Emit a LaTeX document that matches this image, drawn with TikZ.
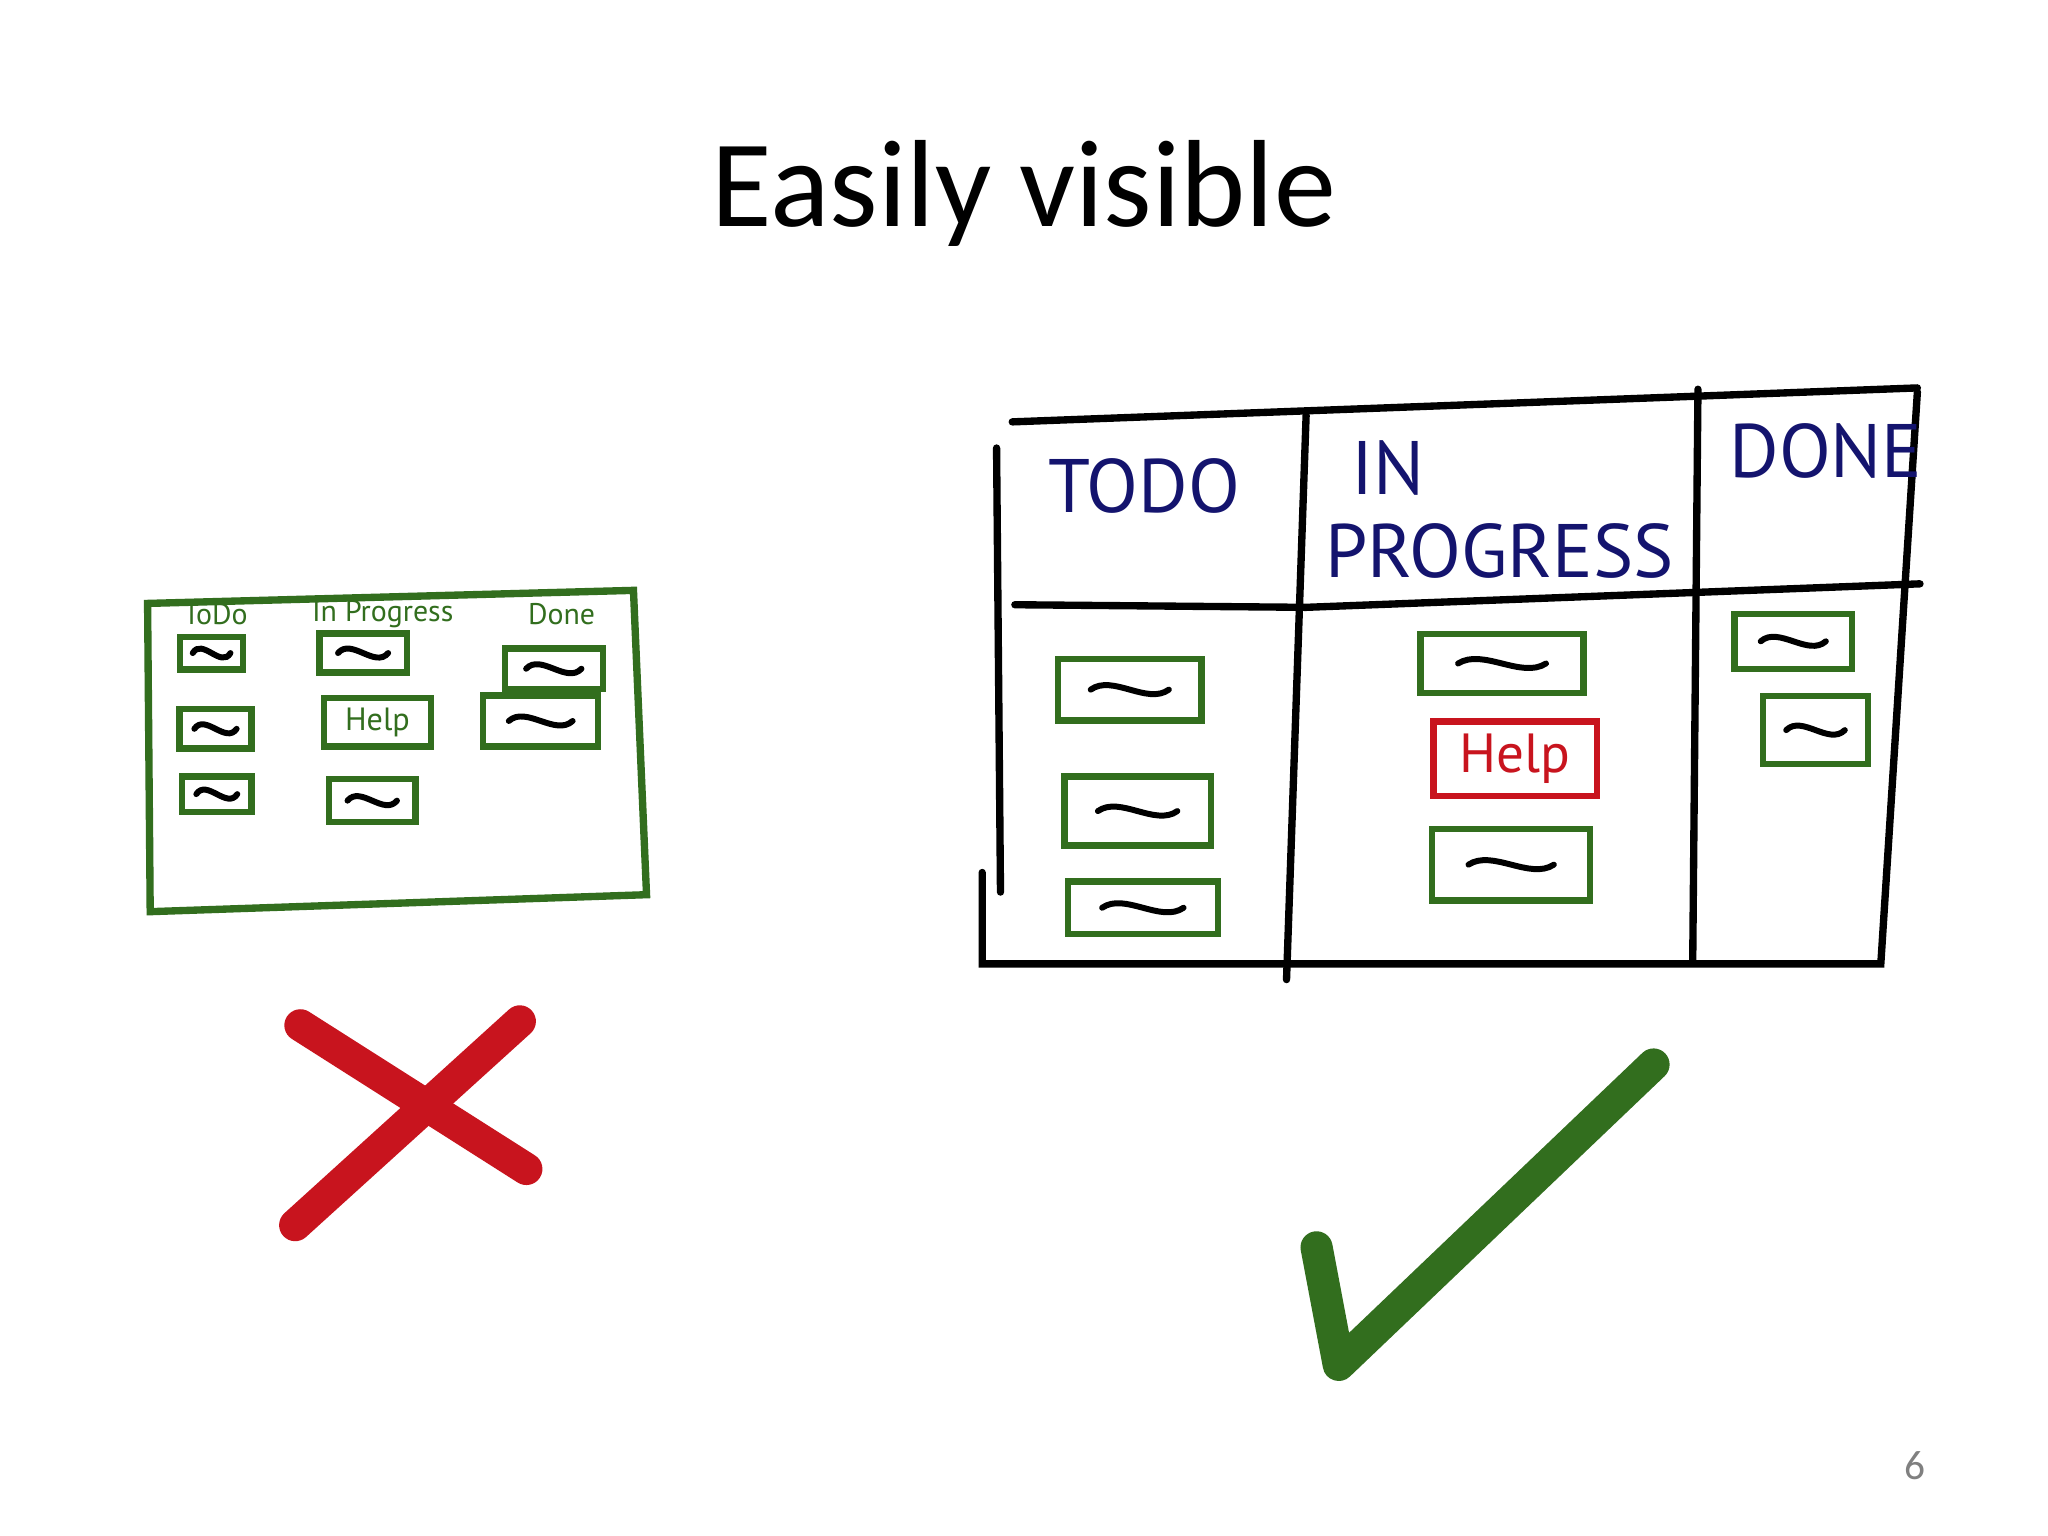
\documentclass[tikz,border=0pt]{standalone}
\usepackage{fontspec}
\setmainfont{Carlito}
\newfontfamily\hand{PT Sans}
\definecolor{bgreen}{RGB}{50,110,30}
\definecolor{bred}{RGB}{200,20,30}
\definecolor{navy}{RGB}{20,20,110}
\newcommand{\mycard}[5][bgreen]{%
  \node[card,draw=#1,minimum width=#4*0.01cm,minimum height=#5*0.01cm] (#2) at (#3) {};
  \draw[squig] ([xshift=#4*0.0025cm]#2.west) .. controls ([xshift=#4*0.004cm,yshift=0.12cm]#2.west) and ([xshift=-#4*0.004cm,yshift=-0.12cm]#2.east) .. ([xshift=-#4*0.0025cm]#2.east);}
\begin{document}
\begin{tikzpicture}[x=0.01cm,y=-0.01cm,
  card/.style={line width=1.4pt,inner sep=0pt},
  squig/.style={line width=1.3pt,black,line cap=round},
  board/.style={line width=1.6pt,black,line cap=round},
  hd/.style={navy,font=\hand\fontsize{16.5}{18}\selectfont,inner sep=0pt},
  sm/.style={bgreen,font=\hand\fontsize{6.5}{7}\selectfont,inner sep=0pt}]
\useasboundingbox[fill=white] (0,0) rectangle (1568,1176);
\node[font=\fontsize{27}{32}\selectfont] (title) at (784,148) {Easily visible};
\node[gray,font=\fontsize{9}{10}\selectfont] (pg) at (1466,1122) {6};
% small board
\draw[bgreen,line width=1.6pt] (113,462) -- (485,452) -- (495,685) -- (115,698) -- cycle;
\node[sm] (s1) at (165,470) {ToDo};
\node[sm] (s2) at (293,470) {In Progress};
\node[sm] (s3) at (430,470) {Done};
\mycard{a1}{162,500}{48}{25}
\mycard{a2}{165,558}{55}{30}
\mycard{a3}{166,608}{53}{27}
\mycard{a4}{278,500}{67}{30}
\node[card,draw=bgreen,minimum width=0.82cm,minimum height=0.37cm,bgreen,font=\hand\fontsize{7}{8}\selectfont] (a5) at (289,553) {Help};
\mycard{a6}{285,613}{66}{33}
\mycard{a7}{424,512}{75}{31}
\mycard{a8}{414,552}{88}{39}
% red X
\draw[bred,line width=7pt,line cap=round] (230,785) coordinate (x1) -- (403,895) coordinate (x2);
\draw[bred,line width=7pt,line cap=round] (398,782) coordinate (x3) -- (226,938) coordinate (x4);
% big board
\draw[board] (775,323) -- (1468,297);
\draw[board] (763,343) -- (766,683);
\draw[board] (752,668) -- (752,738) -- (1440,738) -- (1468,300);
\draw[board] (777,463) -- (1000,465) -- (1470,447);
\draw[board] (1000,318) -- (985,750);
\draw[board] (1300,298) -- (1296,735);
\node[hd] (h1) at (876,372) {TODO};
\node[hd,align=left] (h2) at (1148,390) {\hspace*{0.2cm}IN\\PROGRESS};
\node[hd] (h3) at (1398,345) {DONE};
\mycard{b1}{865,528}{110}{47}
\mycard{b2}{871,621}{112}{53}
\mycard{b3}{875,695}{115}{40}
\mycard{c1}{1150,508}{125}{45}
\node[card,draw=bred,minimum width=1.25cm,minimum height=0.57cm,bred,font=\hand\fontsize{12}{14}\selectfont] (c2) at (1160,581) {Help};
\mycard{c3}{1157,662}{121}{55}
\mycard{d1}{1373,491}{90}{42}
\mycard{d2}{1390,559}{80}{52}
% green check
\draw[bgreen,line width=7pt,line cap=round,line join=round] (1008,955) coordinate (k1) -- (1025,1045) coordinate (k2) -- (1266,815) coordinate (k3);
\end{tikzpicture}
\end{document}
